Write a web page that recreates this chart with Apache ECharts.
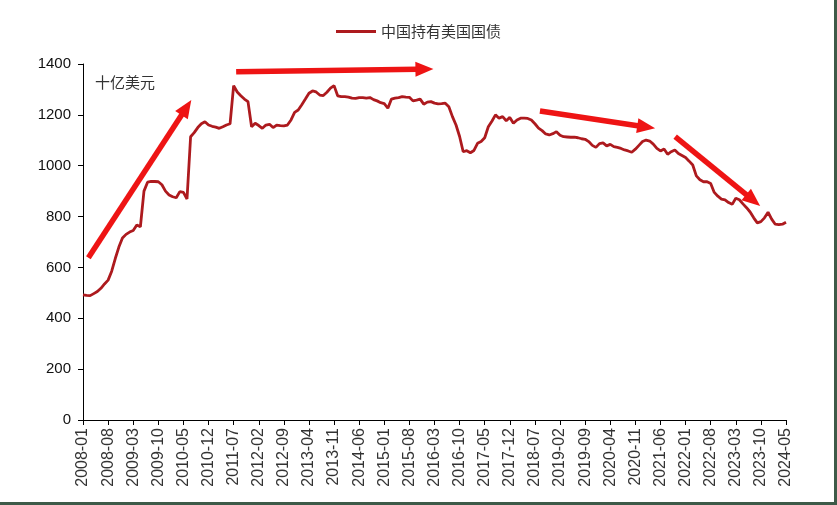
<!DOCTYPE html>
<html><head><meta charset="utf-8">
<script src="https://cdn.jsdelivr.net/npm/echarts@6/dist/echarts.min.js"></script>
<style>html,body{margin:0;padding:0;background:#fff}#c{width:837px;height:505px}</style>
</head><body><div id="c"></div>
<script>
// Monthly categories 2008-01 .. 2024-05
var startYear = 2008, monthCount = 197;
var categories = [];
for (var i = 0; i < monthCount; i++) {
  var y = startYear + Math.floor(i / 12), mo = (i % 12) + 1;
  categories.push(y + '-' + (mo < 10 ? '0' + mo : mo));
}
var seriesName = '中国持有美国国债';
var unitLabel = '十亿美元';
// 十亿美元
var holdings = [
  492,490,489,497,505,518,535,550,585,635,680,716,
  730,739,745,767,760,900,935,938,938,937,925,900,
  885,878,874,898,895,869,1114,1130,1150,1165,1173,1160,
  1155,1152,1147,1153,1160,1165,1315,1290,1275,1262,1252,1153,
  1167,1158,1147,1160,1163,1150,1160,1158,1157,1160,1180,1210,
  1219,1240,1262,1285,1294,1290,1278,1276,1289,1305,1315,1275,
  1272,1272,1270,1266,1265,1268,1268,1266,1268,1260,1255,1248,
  1244,1226,1262,1266,1268,1272,1270,1269,1255,1258,1262,1242,
  1250,1252,1246,1243,1244,1246,1232,1193,1160,1115,1055,1059,
  1051,1060,1088,1095,1110,1153,1175,1200,1187,1193,1177,1190,
  1167,1180,1187,1187,1186,1180,1165,1148,1138,1125,1121,1126,
  1134,1120,1114,1113,1112,1112,1110,1106,1104,1095,1080,1072,
  1087,1090,1078,1084,1075,1072,1068,1062,1058,1053,1065,1080,
  1095,1101,1097,1085,1068,1058,1066,1045,1055,1062,1048,1040,
  1032,1018,1003,960,945,937,937,930,895,880,869,866,
  855,848,872,866,850,835,818,795,775,780,795,817,
  790,770,768,770,778
];
var yTicks = [0,200,400,600,800,1000,1200,1400];
// Annotation arrows: [monthIndex, value] tail and tip
var arrowStarts = [[1.5,638],[42.7,1370],[127.4,1215],[165.1,1114]];
var arrowEnds   = [[30.2,1258],[97.7,1380],[159.5,1147],[188.8,842]];

var chart = echarts.init(document.getElementById('c'), null, {renderer:'canvas'});
var arrowData = arrowStarts.map(function(s, i){ return [s[0], s[1], arrowEnds[i][0], arrowEnds[i][1]]; });
var ARROW_RED = '#ee1414';
function renderArrow(params, api) {
  var p0 = api.coord([api.value(0), api.value(1)]);
  var p1 = api.coord([api.value(2), api.value(3)]);
  var dx = p1[0]-p0[0], dy = p1[1]-p0[1];
  var len = Math.sqrt(dx*dx+dy*dy); var ux = dx/len, uy = dy/len;
  var headLen = 18, headHalf = 7.5;
  var bx = p1[0]-ux*headLen, by = p1[1]-uy*headLen;
  var px = -uy, py = ux;
  return {
    type:'group',
    children:[
      {type:'line', shape:{x1:p0[0], y1:p0[1], x2:bx+ux*2, y2:by+uy*2},
       style:{stroke:ARROW_RED, lineWidth:5.5, lineCap:'butt'}},
      {type:'polygon', shape:{points:[[p1[0],p1[1]],[bx+px*headHalf, by+py*headHalf],[bx-px*headHalf, by-py*headHalf]]},
       style:{fill:ARROW_RED}}
    ]
  };
}
chart.setOption({
  animation:false,
  backgroundColor:'#fff',
  legend:{
    data:[{name:seriesName, icon:'rect'}],
    left:'center', top:19, itemWidth:40, itemHeight:3, itemGap:5,
    textStyle:{fontFamily:'Noto Sans CJK SC', fontSize:15, color:'#333'}
  },
  grid:{left:83, right:51, top:64, bottom:85, containLabel:false},
  xAxis:[{
    type:'category', data:categories, boundaryGap:false,
    axisLine:{lineStyle:{color:'#000', width:1}},
    axisTick:{interval:6, length:5, lineStyle:{color:'#000'}},
    axisLabel:{interval:6, rotate:90, fontFamily:'Liberation Sans', fontSize:16, color:'#333', margin:8},
    splitLine:{show:false}
  },{
    type:'value', min:0, max:monthCount-1, show:false
  }],
  yAxis:{
    type:'value', min:yTicks[0], max:yTicks[yTicks.length-1], interval:200,
    axisLine:{show:true, lineStyle:{color:'#000', width:1}},
    axisTick:{show:true, length:5, lineStyle:{color:'#000'}},
    axisLabel:{fontFamily:'Liberation Sans', fontSize:15, color:'#111', margin:12,
      formatter:function(v){ return String(v); }},
    splitLine:{show:false}
  },
  graphic:[
    {type:'text', left:95, top:75, style:{text:unitLabel, font:'15px "Noto Sans CJK SC"', fill:'#333'}},
    {type:'rect', shape:{x:0, y:502, width:837, height:3}, style:{fill:'#3d5a48'}},
    {type:'rect', shape:{x:834, y:0, width:3, height:505}, style:{fill:'#3d5a48'}}
  ],
  series:[{
    name:seriesName, type:'line', data:holdings, symbol:'none',
    lineStyle:{color:'#ad1a1e', width:2.8}, itemStyle:{color:'#ad1a1e'}, z:3
  },{
    type:'custom', coordinateSystem:'cartesian2d', xAxisIndex:1, yAxisIndex:0,
    data:arrowData, renderItem:renderArrow, z:4, silent:true,
    encode:{x:[0,2], y:[1,3]}
  }]
});
</script></body></html>
